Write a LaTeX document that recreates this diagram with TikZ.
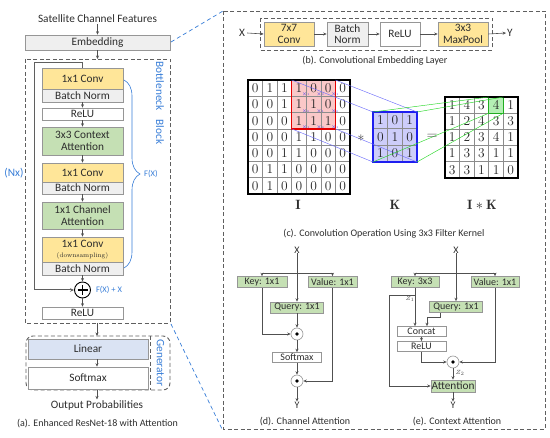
\documentclass[tikz,border=0pt]{standalone}
\usepackage{fontspec}
\setsansfont{Carlito}
\usetikzlibrary{arrows.meta,decorations.pathreplacing,calc}
\definecolor{yel}{RGB}{255,230,153}
\definecolor{grn}{RGB}{197,224,180}
\definecolor{lgray}{RGB}{239,239,239}
\definecolor{lblu}{RGB}{218,227,243}
\definecolor{bord}{RGB}{150,150,150}
\definecolor{txt}{RGB}{45,45,45}
\definecolor{agray}{RGB}{80,80,80}
\definecolor{dgray}{RGB}{95,95,95}
\definecolor{lab}{RGB}{55,125,215}
\definecolor{kfill}{RGB}{205,205,250}
\definecolor{kblue}{RGB}{30,30,240}
\definecolor{rfill}{RGB}{250,200,200}
\definecolor{gfill}{RGB}{180,240,180}
\definecolor{gline}{RGB}{40,215,40}
\definecolor{pline}{RGB}{110,110,250}
\newcommand{\fA}{\fontsize{11.3}{12.5}\selectfont}
\newcommand{\fB}{\fontsize{10}{11}\selectfont}
\newcommand{\fC}{\fontsize{8.5}{9}\selectfont}
\newcommand{\fM}{\fontsize{13.5}{14}\selectfont}
\newcommand{\tinyk}[1]{\rlap{\hspace{-0.4pt}\raisebox{-3.4pt}{\color{kblue}\rmfamily\fontsize{2.8}{3}\selectfont$\times$#1}}}
\begin{document}
\begin{tikzpicture}[x=1pt,y=-1pt,font=\sffamily\fA,text=txt,
  box/.style={draw=bord,line width=0.6pt,inner sep=0pt,align=center,text=txt},
  ybox/.style={box,fill=yel},
  gbox/.style={box,fill=grn},
  graybox/.style={box,fill=lgray},
  wbox/.style={box,fill=white},
  bbox/.style={box,fill=lblu},
  arr/.style={-{Stealth[length=3.5pt,width=3pt]},draw=agray,line width=0.6pt},
  ln/.style={draw=agray,line width=0.6pt},
  dbox/.style={draw=dgray,dash pattern=on 4pt off 2.5pt,line width=0.9pt},
  bdash/.style={draw=lab,dash pattern=on 4pt off 3pt,line width=0.7pt},
  lbl/.style={text=lab,inner sep=0pt},
  cell/.style={inner sep=0pt,font=\rmfamily\fM,text=black!85,anchor=base},
  opc/.style={circle,draw=bord,line width=0.6pt,minimum size=12pt,inner sep=0pt,fill=white}
]
\useasboundingbox (0,0) rectangle (550,438);

% ================= (a) left column =================
\node[inner sep=1pt] (sat) at (97.5,19) {Satellite Channel Features};
\node[graybox,minimum width=145pt,minimum height=15pt] (emb) at (97.5,42.5) {Embedding};
\draw[arr] (sat.south) -- (emb.north);
\coordinate (bt) at (97.5,59);
\draw[arr] (emb.south) -- (bt);
\draw[dbox] (25,59) rectangle (170,323);

\node[ybox,minimum width=81pt,minimum height=21pt] (conv1) at (82.5,78.5) {1x1 Conv};
\node[graybox,minimum width=81pt,minimum height=13pt] (bn1) at (82.5,95.5) {Batch Norm};
\node[wbox,minimum width=81pt,minimum height=12pt] (relu1) at (82.5,114) {ReLU};
\node[gbox,minimum width=81pt,minimum height=28pt] (ctx) at (82.5,141) {3x3 Context\\[-1pt]Attention};
\node[ybox,minimum width=81pt,minimum height=19pt] (conv2) at (82.5,172.5) {1x1 Conv};
\node[graybox,minimum width=81pt,minimum height=12pt] (bn2) at (82.5,188) {Batch Norm};
\node[gbox,minimum width=81pt,minimum height=27pt] (chan) at (82.5,215.5) {1x1 Channel\\[-1pt]Attention};
\node[ybox,minimum width=81pt,minimum height=25pt] (conv3) at (82.5,249.5) {1x1 Conv\\[-3pt]{\rmfamily\fontsize{6.5}{7}\selectfont (downsampling)}};
\node[graybox,minimum width=81pt,minimum height=13pt] (bn3) at (82.5,268.5) {Batch Norm};
\node[circle,draw=black,line width=0.9pt,minimum size=16pt,inner sep=0pt,fill=white] (plus) at (82.5,290) {};
\draw[line width=1.3pt] ($(plus.center)+(-5,0)$) -- ($(plus.center)+(5,0)$);
\draw[line width=1.3pt] ($(plus.center)+(0,-5)$) -- ($(plus.center)+(0,5)$);
\node[wbox,minimum width=81pt,minimum height=12pt] (relu2) at (82.5,313) {ReLU};

\draw[arr] (bn1.south) -- (relu1.north);
\draw[arr] (relu1.south) -- (ctx.north);
\draw[arr] (ctx.south) -- (conv2.north);
\draw[arr] (bn2.south) -- (chan.north);
\draw[arr] (chan.south) -- (conv3.north);
\draw[arr] (bn3.south) -- (plus.north);
\draw[arr] (plus.south) -- (relu2.north);

\coordinate (rA) at (34,63);
\coordinate (rB) at (82.5,63);
\draw[draw=dgray,line width=1pt] (rB) -- (rA);
\draw[draw=dgray,line width=1pt] (rB) -- (conv1.north);
\draw[draw=dgray,line width=1pt,-{Stealth[length=4pt,width=3.5pt]}] (rA) |- (plus.west);

\node[lbl,font=\sffamily\fC] (fxx) at (109,290) {F(X) + X};
\node[lbl] (nx) at (14,173) {(Nx)};
\node[lbl,rotate=-90] (bb) at (160,103) {Bottleneck\hspace{9pt}Block};
\coordinate (brT) at (124,80);
\coordinate (brB) at (124,268);
\draw[draw=lab,line width=0.6pt,decorate,decoration={brace,amplitude=16pt}] (brT) -- (brB);
\node[lbl,font=\sffamily\fC,anchor=west] (fx) at (144,174) {F(X)};

% generator
\coordinate (g1) at (97,323);
\coordinate (g2) at (97,336);
\draw[arr] (g1) -- (g2);
\draw[dbox,rounded corners=7pt] (26,336) rectangle (170,390);
\coordinate (gv1) at (150,336);
\coordinate (gv2) at (150,390);
\draw[dbox] (gv1) -- (gv2);
\node[bbox,minimum width=120pt,minimum height=20pt] (lin) at (88,349) {Linear};
\node[wbox,minimum width=120pt,minimum height=22pt] (soft) at (88,378) {Softmax};
\draw[arr] (lin.south -| g1) -- (soft.north -| g1);
\node[lbl,rotate=-90] (gen) at (160.5,363) {Generator};
\coordinate (g3) at (97,390);
\node[inner sep=1pt] (outp) at (97,405.5) {Output Probabilities};
\draw[arr] (g3) -- (outp.north);
\node[font=\sffamily\fB] (capa) at (97.5,424) {(a). Enhanced ResNet-18 with Attention};

% connectors to right panel
\coordinate (c1a) at (171,42);
\coordinate (c1b) at (223,11);
\coordinate (c2a) at (171,324);
\coordinate (c2b) at (222,429);
\draw[bdash] (c1a) -- (c1b);
\draw[bdash] (c2a) -- (c2b);
\draw[dbox] (223,11) rectangle (545,429);

% ================= (b) =================
\draw[dbox] (260,18) rectangle (492,50);
\node[inner sep=0pt] (xb) at (242,33) {X};
\node[ybox,minimum width=50pt,minimum height=24pt] (c77) at (289,34) {7x7\\[-1pt]Conv};
\node[graybox,minimum width=41pt,minimum height=24pt] (bnb) at (347.5,34) {Batch\\[-1pt]Norm};
\node[wbox,minimum width=40pt,minimum height=24pt] (relub) at (400,34) {ReLU};
\node[ybox,minimum width=50pt,minimum height=24pt] (pool) at (463,34) {3x3\\[-1pt]MaxPool};
\node[inner sep=0pt] (yb) at (510,33) {Y};
\draw[arr] (xb.east) ++(2,0) -- (c77.west);
\draw[arr] (c77.east) -- (bnb.west);
\draw[arr] (bnb.east) -- (relub.west);
\draw[arr] (relub.east) -- (pool.west);
\draw[arr] (pool.east) -- ($(yb.west)+(-1,0)$);
\node[font=\sffamily\fB] (capb) at (375,61) {(b). Convolutional Embedding Layer};

% ================= (c) =================
% I matrix
\fill[rfill] (291.71,80) rectangle (335.43,128.86);
\foreach \i in {1,...,6}{
  \draw[draw=black!45,line width=0.7pt] ({248+\i*14.571},80) -- ({248+\i*14.571},194);
  \draw[draw=black!45,line width=0.7pt] (248,{80+\i*16.286}) -- (350,{80+\i*16.286});
}
\draw[draw=red!90!black,line width=1.3pt] (291.71,80) rectangle (335.43,128.86);
\draw[draw=black,line width=1.3pt] (248,80) rectangle (350,194);
\foreach \row [count=\r from 0] in {{0,1,1,1,0,0,0},{0,0,1,1,1,0,0},{0,0,0,1,1,1,0},{0,0,0,1,1,0,0},{0,0,1,1,0,0,0},{0,1,1,0,0,0,0},{0,1,0,0,0,0,0}}{
  \foreach \v [count=\c from 0] in \row {
    \pgfmathtruncatemacro\inred{and(\r<3,and(\c>2,\c<6))}
    \pgfmathtruncatemacro\kv{1-mod(\r+\c+1,2)}
    \ifnum\inred=1
      \node[cell] (I-\r-\c) at ({248+(\c+0.5)*14.571},{80+(\r+0.5)*16.286+4.3}) {\v\tinyk{\kv}};
    \else
      \node[cell] (I-\r-\c) at ({248+(\c+0.5)*14.571},{80+(\r+0.5)*16.286+4.3}) {\v};
    \fi
  }
}
% K matrix
\fill[kfill] (373,112) rectangle (417,162);
\foreach \i in {1,2}{
  \draw[draw=black!45,line width=0.7pt] ({373+\i*14.667},112) -- ({373+\i*14.667},162);
  \draw[draw=black!45,line width=0.7pt] (373,{112+\i*16.667}) -- (417,{112+\i*16.667});
}
\draw[draw=kblue,line width=1.3pt] (373,112) rectangle (417,162);
\foreach \row [count=\r from 0] in {{1,0,1},{0,1,0},{1,0,1}}{
  \foreach \v [count=\c from 0] in \row {
    \node[cell] (K-\r-\c) at ({373+(\c+0.5)*14.667},{112+(\r+0.5)*16.667+4.3}) {\v};
  }
}
% I*K matrix
\fill[gfill] (488.8,97) rectangle (503.4,113.2);
\foreach \i in {1,...,4}{
  \draw[draw=black!45,line width=0.7pt] ({445+\i*14.6},97) -- ({445+\i*14.6},178);
  \draw[draw=black!45,line width=0.7pt] (445,{97+\i*16.2}) -- (518,{97+\i*16.2});
}
\draw[draw=gline!80!black,line width=1.3pt] (488.8,97) rectangle (503.4,113.2);
\draw[draw=black,line width=1.3pt] (445,97) rectangle (518,178);
\foreach \row [count=\r from 0] in {{1,4,3,4,1},{1,2,4,3,3},{1,2,3,4,1},{1,3,3,1,1},{3,3,1,1,0}}{
  \foreach \v [count=\c from 0] in \row {
    \node[cell] (O-\r-\c) at ({445+(\c+0.5)*14.6},{97+(\r+0.5)*16.2+4.3}) {\v};
  }
}
% projection lines
\draw[draw=pline,line width=0.45pt] (291.71,80) -- (373,112);
\draw[draw=pline,line width=0.45pt] (335.43,80) -- (417,112);
\draw[draw=pline,line width=0.45pt] (291.71,128.86) -- (373,162);
\draw[draw=pline,line width=0.45pt] (335.43,128.86) -- (417,162);
\draw[draw=gline,line width=0.45pt] (373,112) -- (488.8,97);
\draw[draw=gline,line width=0.45pt] (417,112) -- (503.4,97);
\draw[draw=gline,line width=0.45pt] (373,162) -- (488.8,113.2);
\draw[draw=gline,line width=0.45pt] (417,162) -- (503.4,113.2);
\node[inner sep=0pt,font=\rmfamily\fM,text=black!70] (ast) at (361,138) {$\ast$};
\node[inner sep=0pt,font=\rmfamily\fM,text=black!70] (eq) at (432,137) {$=$};
\node[inner sep=0pt,font=\rmfamily\fM] (lI) at (298,205) {$\mathbf{I}$};
\node[inner sep=0pt,font=\rmfamily\fM] (lK) at (395,205) {$\mathbf{K}$};
\node[inner sep=0pt,font=\rmfamily\fM] (lIK) at (482,205) {$\mathbf{I}\ast\mathbf{K}$};
\node[font=\sffamily\fB] (capc) at (384,234) {(c). Convolution Operation Using 3x3 Filter Kernel};

% ================= (d) =================
\begin{scope}[font=\sffamily\fB]
\node[inner sep=0pt] (Xd) at (297,250) {X};
\node[gbox,minimum width=50pt,minimum height=11pt] (keyd) at (262,282) {Key: 1x1};
\node[gbox,minimum width=49pt,minimum height=11pt] (valued) at (332.5,282) {Value: 1x1};
\node[gbox,minimum width=53pt,minimum height=11pt] (queryd) at (297,307.5) {Query: 1x1};
\node[opc] (c1d) at (297,334) {};
\node[wbox,minimum width=49pt,minimum height=10pt] (softd) at (297,357.5) {Softmax};
\node[opc] (c2d) at (297,381) {};
\node[inner sep=0pt] (Yd) at (297,405) {Y};
\node (capd) at (305,422) {(d). Channel Attention};
\end{scope}
\fill (c1d.center) circle (1.8pt);
\fill (c2d.center) circle (1.8pt);
\coordinate (sd) at (297,273);
\draw[arr] (Xd.south) -- (queryd.north);
\draw[ln] (keyd.north |- sd) -- (valued.north |- sd);
\draw[arr] (keyd.north |- sd) -- (keyd.north);
\draw[arr] (valued.north |- sd) -- (valued.north);
\draw[arr] (keyd.south) |- (c1d.west);
\draw[arr] (queryd.south) -- (c1d.north);
\draw[arr] (c1d.south) -- (softd.north);
\draw[arr] (softd.south) -- (c2d.north);
\draw[arr] (valued.south) |- (c2d.east);
\draw[arr] (c2d.south) -- (Yd.north);

% ================= (e) =================
\begin{scope}[font=\sffamily\fB]
\node[inner sep=0pt] (Xe) at (456,250) {X};
\node[gbox,minimum width=48pt,minimum height=11pt] (keye) at (415,282) {Key: 3x3};
\node[gbox,minimum width=48pt,minimum height=11pt] (valuee) at (495,282) {Value: 1x1};
\node[gbox,minimum width=53pt,minimum height=11pt] (querye) at (456,307) {Query: 1x1};
\node[wbox,minimum width=49pt,minimum height=10pt] (concat) at (421.5,331.5) {Concat};
\node[wbox,minimum width=49pt,minimum height=10pt] (relue) at (421.5,346.5) {ReLU};
\node[opc] (ce) at (453,362) {};
\node[gbox,minimum width=44pt,minimum height=12pt,font=\sffamily\fA] (atte) at (453,386) {Attention};
\node[inner sep=0pt] (Ye) at (453,405) {Y};
\node (cape) at (457,422) {(e). Context Attention};
\end{scope}
\fill (ce.center) circle (1.8pt);
\coordinate (se) at (456,273);
\draw[arr] (Xe.south) -- (querye.north);
\draw[ln] (keye.north |- se) -- (valuee.north |- se);
\draw[arr] (keye.north |- se) -- (keye.north);
\draw[arr] (valuee.north |- se) -- (valuee.north);
\draw[arr] (keye.south) -- (keye.south |- concat.north);
\coordinate (kb) at (415,295);
\coordinate (kbl) at (389,295);
\draw[arr] (kb) -- (kbl) |- (atte.west);
\coordinate (q1) at (440,317);
\coordinate (q2) at (427,317);
\draw[ln] (querye.south -| q1) -- (q1) -- (q2);
\draw[arr] (q2) -- (q2 |- concat.north);
\draw[arr] (concat.south) -- (relue.north);
\draw[arr] (relue.south) |- (ce.west);
\draw[arr] (valuee.south) |- (ce.east);
\draw[arr] (ce.south) -- (atte.north);
\draw[arr] (atte.south) -- (Ye.north);
\node[inner sep=0pt,font=\rmfamily\fontsize{6.5}{7}\selectfont,text=black!70] (z1) at (410,299) {$Z_1$};
\node[inner sep=0pt,font=\rmfamily\fontsize{6.5}{7}\selectfont,text=black!70] (z2) at (460,373) {$Z_2$};
\end{tikzpicture}
\end{document}
